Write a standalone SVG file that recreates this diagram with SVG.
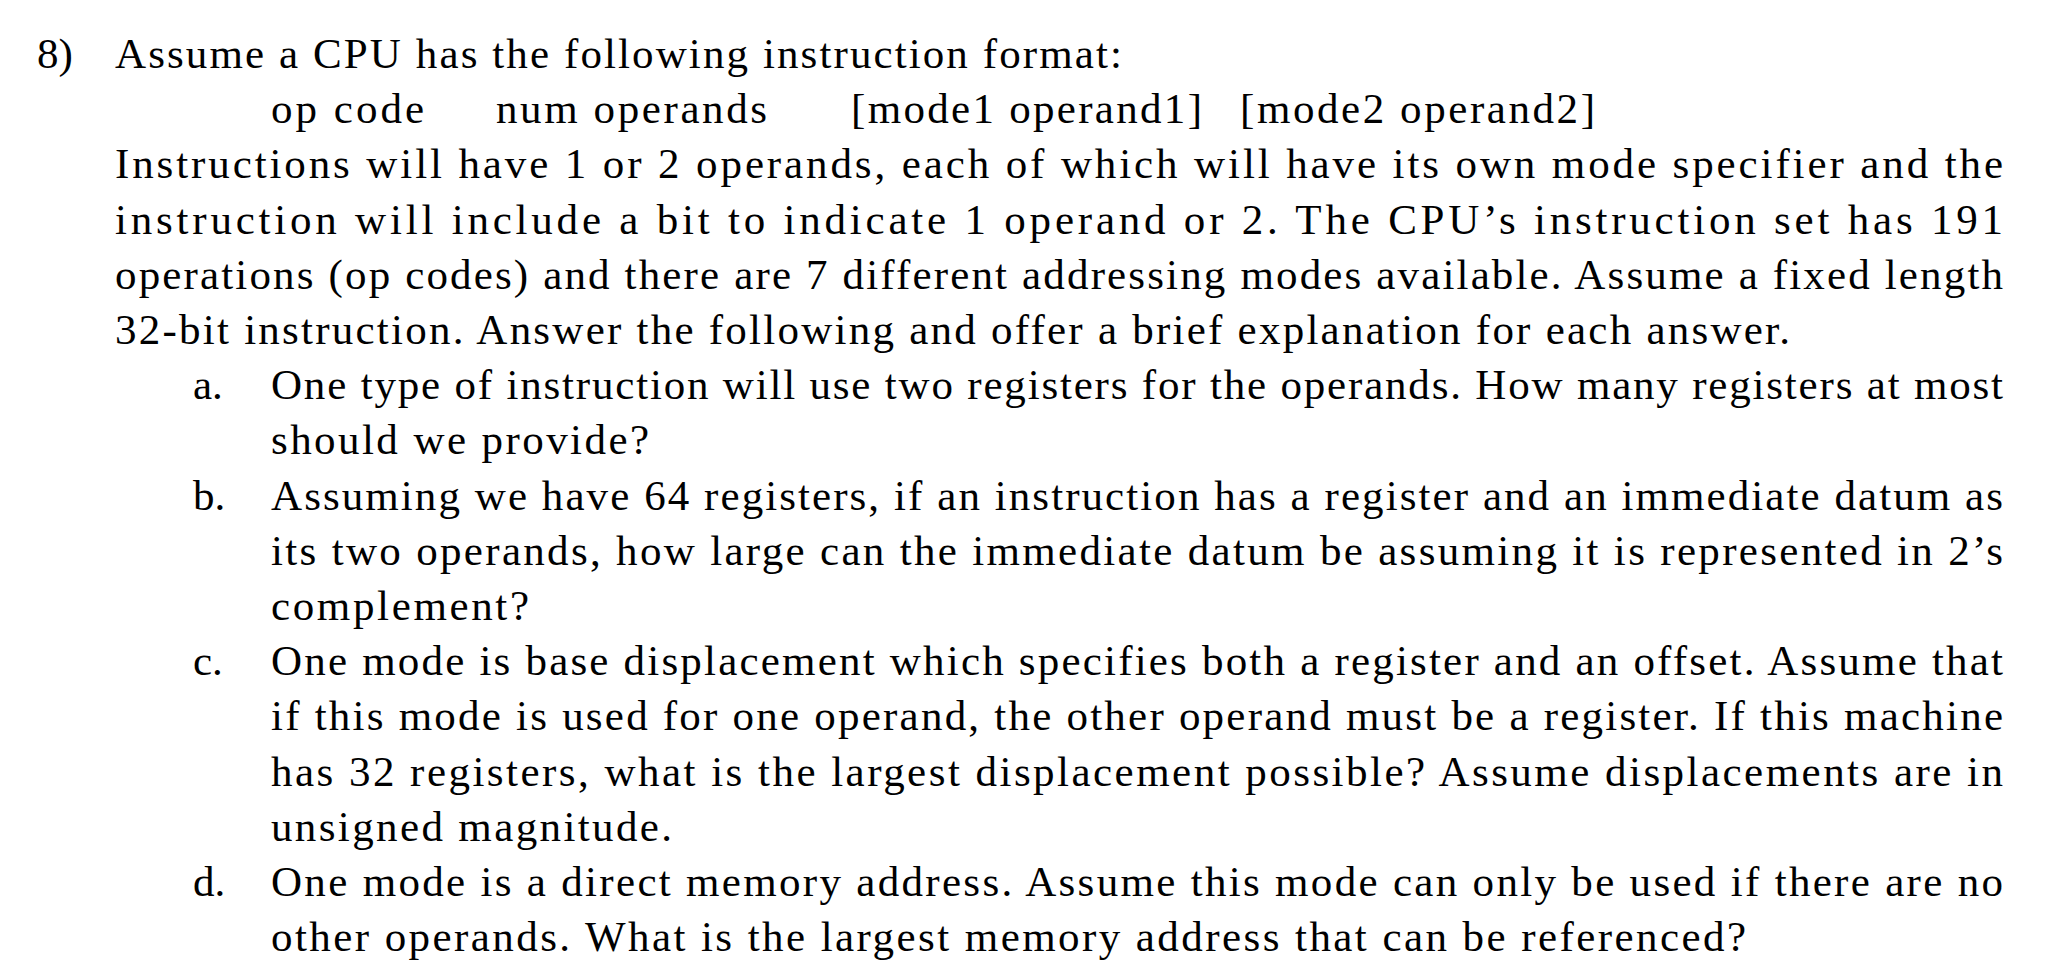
<svg xmlns="http://www.w3.org/2000/svg" width="2046" height="975" viewBox="0 0 2046 975">
<style>text{font-family:"Liberation Serif","Times New Roman",serif;font-size:43px;fill:#000}</style>
<rect width="2046" height="975" fill="#fff"/>
<g id="question">
<text x="37" y="68">8)</text>
<text x="115" y="68" textLength="1007" lengthAdjust="spacing">Assume a CPU has the following instruction format:</text>
<text x="271" y="123" textLength="153" lengthAdjust="spacing">op code</text>
<text x="496" y="123" textLength="271" lengthAdjust="spacing">num operands</text>
<text x="851" y="123" textLength="351" lengthAdjust="spacing">[mode1 operand1]</text>
<text x="1240" y="123" textLength="355" lengthAdjust="spacing">[mode2 operand2]</text>
<text x="115" y="178" textLength="1888" lengthAdjust="spacing">Instructions will have 1 or 2 operands, each of which will have its own mode specifier and the</text>
<text x="115" y="234" textLength="1888" lengthAdjust="spacing">instruction will include a bit to indicate 1 operand or 2.  The CPU’s instruction set has 191</text>
<text x="115" y="289" textLength="1888" lengthAdjust="spacing">operations (op codes) and there are 7 different addressing modes available.  Assume a fixed length</text>
<text x="115" y="344" textLength="1675" lengthAdjust="spacing">32-bit instruction.  Answer the following and offer a brief explanation for each answer.</text>
</g>
<g id="item-a">
<text x="193" y="399">a.</text>
<text x="271" y="399" textLength="1732" lengthAdjust="spacing">One type of instruction will use two registers for the operands.  How many registers at most</text>
<text x="271" y="454" textLength="378" lengthAdjust="spacing">should we provide?</text>
</g>
<g id="item-b">
<text x="193" y="510">b.</text>
<text x="271" y="510" textLength="1732" lengthAdjust="spacing">Assuming we have 64 registers, if an instruction has a register and an immediate datum as</text>
<text x="271" y="565" textLength="1732" lengthAdjust="spacing">its two operands, how large can the immediate datum be assuming it is represented in 2’s</text>
<text x="271" y="620" textLength="258" lengthAdjust="spacing">complement?</text>
</g>
<g id="item-c">
<text x="193" y="675">c.</text>
<text x="271" y="675" textLength="1732" lengthAdjust="spacing">One mode is base displacement which specifies both a register and an offset.  Assume that</text>
<text x="271" y="730" textLength="1732" lengthAdjust="spacing">if this mode is used for one operand, the other operand must be a register.  If this machine</text>
<text x="271" y="786" textLength="1732" lengthAdjust="spacing">has 32 registers, what is the largest displacement possible?  Assume displacements are in</text>
<text x="271" y="841" textLength="401" lengthAdjust="spacing">unsigned magnitude.</text>
</g>
<g id="item-d">
<text x="193" y="896">d.</text>
<text x="271" y="896" textLength="1732" lengthAdjust="spacing">One mode is a direct memory address.  Assume this mode can only be used if there are no</text>
<text x="271" y="951" textLength="1475" lengthAdjust="spacing">other operands.  What is the largest memory address that can be referenced?</text>
</g>
<g id="connectors"/>
</svg>
